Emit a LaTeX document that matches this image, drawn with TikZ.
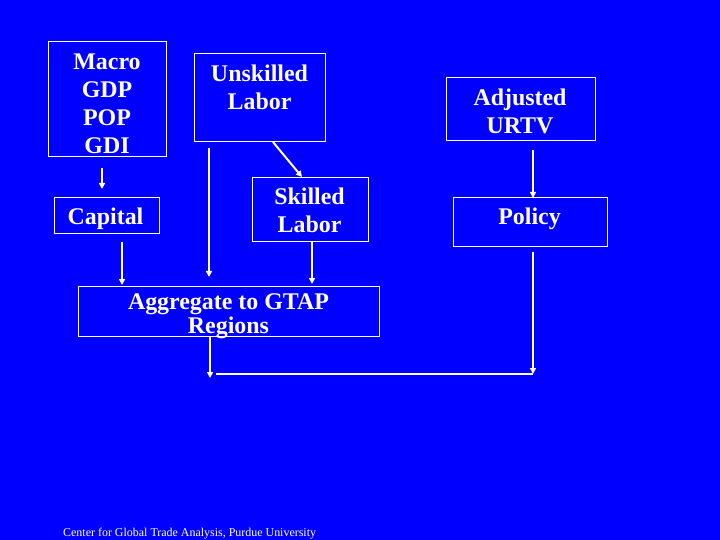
\documentclass[tikz,border=0pt]{standalone}
\usepackage{fontspec}
\setmainfont{Liberation Serif}
\usetikzlibrary{arrows.meta}
\definecolor{bg}{RGB}{0,0,255}
\begin{document}
\begin{tikzpicture}[x=1bp,y=-1bp,
  box/.style={draw=white, line width=1bp, inner sep=0, outer sep=0, anchor=north west},
  lbl/.style={text=white, font=\bfseries\fontsize{24}{28}\selectfont, align=center, inner sep=0},
  arr/.style={draw=white, line width=2bp, -{Triangle[length=6bp,width=6bp]}},
  ln/.style={draw=white, line width=2bp}]
\fill[bg] (0,0) rectangle (720,540);
\useasboundingbox (0,0) rectangle (720,540);
% boxes
\node[box, minimum width=118bp, minimum height=115bp] (macro) at (48,42) {};
\node[box, minimum width=131bp, minimum height=88bp] (unsk) at (194,54) {};
\node[box, minimum width=105bp, minimum height=36bp] (capital) at (54,198) {};
\node[box, minimum width=116bp, minimum height=63bp] (skill) at (252,178) {};
\node[box, minimum width=301bp, minimum height=50bp] (aggr) at (78,286) {};
\node[box, minimum width=149bp, minimum height=63bp] (adj) at (446,78) {};
\node[box, minimum width=154bp, minimum height=48bp] (policy) at (453,198) {};
% texts
\node[lbl] (macrot) at (107,103.5) {Macro\\GDP\\POP\\GDI};
\node[lbl] (unskt) at (259.5,87) {Unskilled\\Labor};
\node[lbl] (capitalt) at (105.5,219) {Capital};
\node[lbl] (skillt) at (309.5,210.5) {Skilled\\Labor};
\node[lbl, font=\bfseries\fontsize{24}{24}\selectfont] (aggrt) at (228.5,316) {Aggregate to GTAP\\Regions};
\node[lbl] (adjt) at (520,111.5) {Adjusted\\URTV};
\node[lbl] (policyt) at (529.5,219) {Policy};
\node[text=white, font=\fontsize{12}{14}\selectfont, anchor=base west, inner sep=0] (foot) at (63,536) {Center for Global Trade Analysis, Purdue University};
% column positions and free ends
\coordinate (xa) at (102,0);
\coordinate (xb) at (122,0);
\coordinate (xc) at (209,0);
\coordinate (xd) at (312,0);
\coordinate (xe) at (533,0);
\coordinate (o1) at (210,378);
\coordinate (o2) at (533,374);
\coordinate (h1) at (216,374);
% connectors
\draw[arr] ([yshift=-11bp]xa |- macro.south) -- ([yshift=9bp]xa |- capital.north);
\draw[arr] ([xshift=13.5bp]unsk.south) -- ([xshift=-8bp,yshift=1bp]skill.north);
\draw[arr] ([yshift=-8bp]xb |- capital.south) -- ([yshift=1bp]xb |- aggr.north);
\draw[arr] ([yshift=-6bp]xc |- unsk.south) -- ([yshift=9bp]xc |- aggr.north);
\draw[arr] (xd |- skill.south) -- ([yshift=2bp]xd |- aggr.north);
\draw[arr] (o1 |- aggr.south) -- (o1);
\draw[arr] ([yshift=-9bp]xe |- adj.south) -- (xe |- policy.north);
\draw[arr] ([yshift=-6bp]xe |- policy.south) -- (o2);
\draw[ln] (h1) -- (o2);
\end{tikzpicture}
\end{document}
